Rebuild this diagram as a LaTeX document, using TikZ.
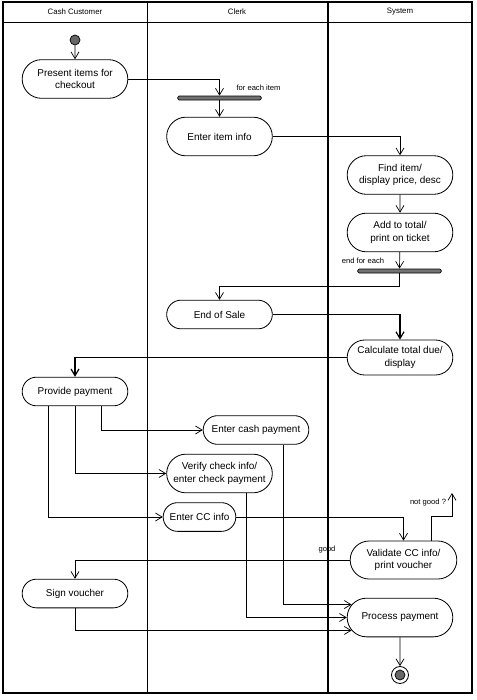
\documentclass[tikz,border=0pt]{standalone}
\usepackage{fontspec}
\setmainfont{Liberation Sans}
\usepackage{tikz}
\usetikzlibrary{calc}
\usetikzlibrary{arrows.meta}
\usetikzlibrary{shapes.misc}
\usetikzlibrary{positioning}

\begin{document}
\begin{tikzpicture}[x=0.3mm,y=-0.3mm,on grid,line width=0.6pt,
		>={Straight Barb[length=2mm,width=2.4mm]},
		act/.style={rounded rectangle,draw=black,fill=white,line width=0.7pt,align=center,inner sep=1pt,
			minimum width=32.4mm,minimum height=11.6mm,font=\fontsize{8.5}{10.5}\selectfont},
		flat/.style={act,minimum height=8.6mm},
		bar/.style={rectangle,draw=black,fill=black!55,inner sep=0pt,minimum width=25mm,minimum height=1.2mm,rounded corners=0.4mm},
		lbl/.style={inner sep=1pt,font=\fontsize{6.5}{8}\selectfont},
		lanehead/.style={font=\fontsize{6.7}{8}\selectfont}]
		\useasboundingbox (0,0) rectangle (477,700);
		
		\draw[line width=1pt] (3,2) rectangle (472,693);
		\draw[line width=0.8pt] (3,22) -- (472,22);
		\draw[line width=0.8pt] (147,2) -- (147,693);
		\draw[line width=1.2pt] (328,2) -- (328,693);
		\node[lanehead] (hcust)   at (75,12)  {Cash Customer};
		\node[lanehead] (hclerk)  at (237,12) {Clerk};
		\node[lanehead] (hsys)    at (400,12) {System};
		
		\node[circle,draw=black,fill=black!60,minimum size=3mm,inner sep=0pt] (start) at (75,40) {};
		\node[act]  (present) at (75,79)      {Present items for\\checkout};
		\node[bar]  (fork)    at (219.5,98)   {};
		\node[act]  (item)    at (219.5,136.5) {Enter item info};
		\node[act]  (find)    at (400,175)    {Find item/\\display price, desc};
		\node[act]  (add)     [below=17.25mm of find] {Add to total/\\print on ticket};
		\node[bar]  (join)    at (399.5,271)  {};
		\node[flat] (sale)    at (219.5,314.5) {End of Sale};
		\node[act,minimum height=10.5mm] (total) at (400,357.5) {Calculate total due/\\display};
		\node[flat] (pay)     at (75,391.5)   {Provide payment};
		\node[flat] (cash)    at (256,430)    {Enter cash payment};
		\node[act]  (check)   at (219.5,473.5) {Verify check info/\\enter check payment};
		\node[flat,minimum width=22.5mm] (cc) at (199.5,517) {Enter CC info};
		\node[act,minimum width=32.7mm,minimum height=11.4mm] (valid) at (403.5,560) {Validate CC info/\\print voucher};
		\node[flat] (sign)    at (75,593.5)   {Sign voucher};
		\node[act]  (proc)    at (400,617.5)  {Process payment};
		\node[circle,draw=black,line width=0.7pt,minimum size=5.1mm,inner sep=0pt] (end) at (400,675) {};
		\node[circle,draw=black,fill=black!60,minimum size=3mm,inner sep=0pt] (endin) at (end) {};
		\coordinate (notgood) at (452,493);
		
		\node[lbl,anchor=west] (each)    at (235,88)  {for each item};
		\node[lbl]             (endeach) at (363,261) {end for each};
		\node[lbl]             (ngood)   at (428,503) {not good ?};
		\node[lbl]             (good)    at (327,550) {good};
		
		\draw[->] (start) -- (present);
		\draw[->] (present.east) -| (fork.north);
		\draw[->] (fork.south) -- (item.north);
		\draw[->] (item.east) -| (find.north);
		\draw[->] (find) -- (add);
		\draw[->] (add) -- (join);
		\draw[->] (join.south) -- ++(0,13) -| (sale.north);
		\draw[->,line width=1pt] (sale.east) -| (total.north);
		\draw[->,line width=1pt] (total.west) -| (pay.north);
		\draw[->] ($(pay.south)+(26,0)$) |- (cash.west);
		\draw[->] (pay.south) |- (check.west);
		\draw[->] ($(pay.south)+(-27,0)$) |- (cc.west);
		\draw[->] (cc.east) -| (valid.north);
		\draw[->] ($(valid.north)+(27.5,0)$) -- ++(0,-24) -| (notgood);
		\draw[->] (valid.west) -| (sign.north);
		\draw[->] ($(cash.south)+(27,0)$) |- (proc.165);
		\draw[->] ($(check.south)+(26.5,0)$) |- (proc.west);
		\draw[->] (sign.south) |- (proc.195);
		\draw[->] (proc) -- (end);
\end{tikzpicture}
\end{document}
